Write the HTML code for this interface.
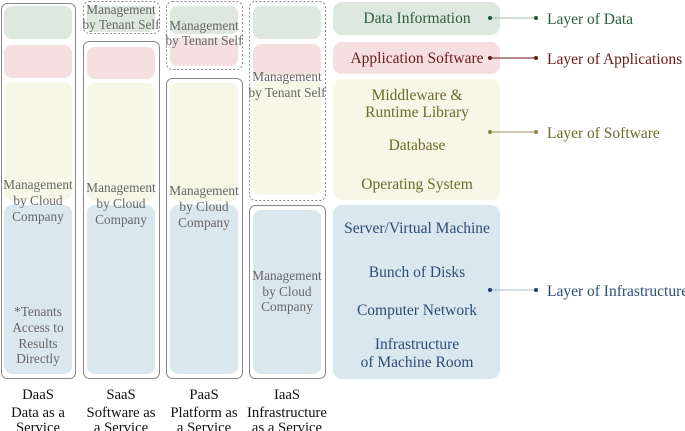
<!DOCTYPE html>
<html><head><meta charset="utf-8"><style>
html,body{margin:0;padding:0;background:#fff;}
svg{display:block;}
text{font-family:"Liberation Serif",serif;}
</style></head><body>
<svg width="685" height="431" viewBox="0 0 685 431" xmlns="http://www.w3.org/2000/svg">
<g fill="none" stroke="#888" stroke-width="1">
<rect x="1.5" y="3.5" width="74" height="375" rx="6"/>
<rect x="83.5" y="1.5" width="76" height="32" rx="6" stroke-dasharray="2,2"/>
<rect x="83.5" y="41.5" width="76" height="337" rx="6"/>
<rect x="166.5" y="1.5" width="76" height="68" rx="6" stroke-dasharray="2,2"/>
<rect x="166.5" y="78.5" width="76" height="300" rx="6"/>
<rect x="249.5" y="1.5" width="76" height="199" rx="6" stroke-dasharray="2,2"/>
<rect x="249.5" y="205.5" width="76" height="173" rx="6"/>
</g>
<rect x="4" y="6" width="68" height="33" rx="8" fill="#dde9df"/>
<rect x="4" y="45" width="68" height="33" rx="8" fill="#f5dfe0"/>
<rect x="4" y="82" width="68" height="118" rx="8" fill="#f6f7e6"/>
<rect x="4" y="205" width="68" height="169" rx="8" fill="#dbe7ef"/>
<rect x="87" y="6" width="68" height="26" rx="6" fill="#dde9df"/>
<rect x="87" y="47" width="68" height="32" rx="8" fill="#f5dfe0"/>
<rect x="87" y="83" width="68" height="118" rx="8" fill="#f6f7e6"/>
<rect x="87" y="205" width="68" height="169" rx="8" fill="#dbe7ef"/>
<rect x="170" y="6" width="68" height="28" rx="7" fill="#dde9df"/>
<rect x="170" y="38" width="68" height="28" rx="7" fill="#f5dfe0"/>
<rect x="170" y="83" width="68" height="118" rx="8" fill="#f6f7e6"/>
<rect x="170" y="205" width="68" height="169" rx="8" fill="#dbe7ef"/>
<rect x="253" y="6" width="68" height="33" rx="8" fill="#dde9df"/>
<rect x="253" y="44" width="68" height="32" rx="8" fill="#f5dfe0"/>
<rect x="253" y="81" width="68" height="114" rx="8" fill="#f6f7e6"/>
<rect x="253" y="210" width="68" height="164" rx="8" fill="#dbe7ef"/>
<g fill="#666" font-size="13.3" text-anchor="middle">
<text x="38" y="189">Management</text><text x="38" y="205">by Cloud</text><text x="38" y="221">Company</text>
<text x="38" y="316">*Tenants</text><text x="38" y="332">Access to</text><text x="38" y="348">Results</text><text x="38" y="363">Directly</text>
<text x="121" y="14">Management</text><text x="121" y="29">by Tenant Self</text>
<text x="121" y="192">Management</text><text x="121" y="208">by Cloud</text><text x="121" y="224">Company</text>
<text x="204" y="30">Management</text><text x="204" y="45">by Tenant Self</text>
<text x="204" y="195">Management</text><text x="204" y="211">by Cloud</text><text x="204" y="227">Company</text>
<text x="287" y="81">Management</text><text x="287" y="97">by Tenant Self</text>
<text x="287" y="280">Management</text><text x="287" y="296">by Cloud</text><text x="287" y="311">Company</text>
</g>
<g fill="#111" font-size="14.7" text-anchor="middle">
<text x="38" y="399">DaaS</text><text x="38" y="417">Data as a</text><text x="38" y="432">Service</text>
<text x="121" y="399">SaaS</text><text x="121" y="417">Software as</text><text x="121" y="432">a Service</text>
<text x="204" y="399">PaaS</text><text x="204" y="417">Platform as</text><text x="204" y="432">a Service</text>
<text x="287" y="399">IaaS</text><text x="287" y="417">Infrastructure</text><text x="287" y="432">as a Service</text>
</g>
<rect x="333" y="2" width="167" height="33" rx="9" fill="#dde9df"/>
<rect x="333" y="42" width="167" height="32" rx="9" fill="#f5dfe0"/>
<rect x="333" y="79" width="167" height="121" rx="9" fill="#f6f7e6"/>
<rect x="333" y="205" width="167" height="174" rx="9" fill="#dbe7ef"/>
<g font-size="15.5" text-anchor="middle">
<text x="417" y="23" fill="#2d5e3c">Data Information</text>
<text x="417" y="63" fill="#6b1a1a">Application Software</text>
<g fill="#6d6a2a"><text x="417" y="100">Middleware &amp;</text><text x="417" y="117">Runtime Library</text><text x="417" y="150">Database</text><text x="417" y="189">Operating System</text></g>
<g fill="#2b4d75"><text x="417" y="233">Server/Virtual Machine</text><text x="417" y="277">Bunch of Disks</text><text x="417" y="315">Computer Network</text><text x="417" y="349">Infrastructure</text><text x="417" y="367">of Machine Room</text></g>
</g>
<g stroke-width="1">
<line x1="490" y1="18" x2="536" y2="18" stroke="#aab8ae"/>
<line x1="490" y1="58" x2="536" y2="58" stroke="#6b1a1a"/>
<line x1="490" y1="132" x2="536" y2="132" stroke="#9a9650"/>
<line x1="490" y1="290" x2="536" y2="290" stroke="#a9b8c9"/>
</g>
<g>
<circle cx="490" cy="18" r="2" fill="#1f5a33"/><circle cx="536" cy="18" r="2" fill="#1f5a33"/>
<circle cx="490" cy="58" r="2" fill="#6b1a1a"/><circle cx="536" cy="58" r="2" fill="#6b1a1a"/>
<circle cx="490" cy="132" r="2" fill="#8a8640"/><circle cx="536" cy="132" r="2" fill="#8a8640"/>
<circle cx="490" cy="290" r="2" fill="#1f3f66"/><circle cx="536" cy="290" r="2" fill="#1f3f66"/>
</g>
<g font-size="15.5">
<text x="547" y="24" fill="#2d5e3c">Layer of Data</text>
<text x="547" y="64" fill="#6b1a1a">Layer of Applications</text>
<text x="547" y="138" fill="#6d6a2a">Layer of Software</text>
<text x="547" y="296" fill="#2b4d75">Layer of Infrastructure</text>
</g>
</svg>
</body></html>
